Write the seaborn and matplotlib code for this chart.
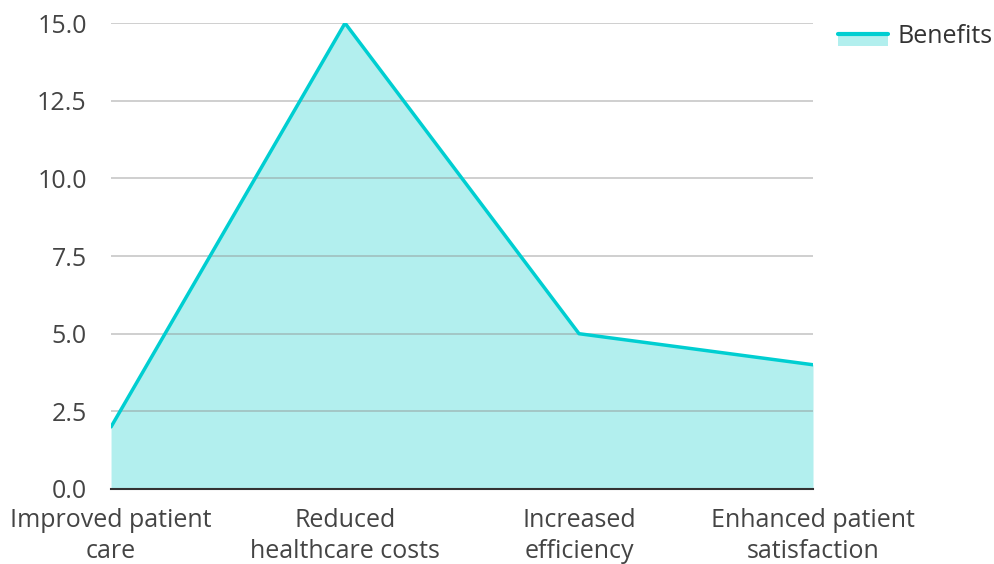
import matplotlib
matplotlib.use("Agg")
import matplotlib.pyplot as plt
import seaborn as sns
import pandas as pd
from matplotlib.legend_handler import HandlerBase
from matplotlib.patches import Rectangle
from matplotlib.lines import Line2D

categories = ["Improved patient\ncare", "Reduced\nhealthcare costs",
              "Increased\nefficiency", "Enhanced patient\nsatisfaction"]
benefits = [2, 15, 5, 4]
y_ticks = [0.0, 2.5, 5.0, 7.5, 10.0, 12.5, 15.0]
series_name = "Benefits"

line_color = "#00CED1"
fill_color = "#B2EFEE"

sns.set_theme(style="white")
plt.rcParams["font.family"] = ["Open Sans", "DejaVu Sans"]

df = pd.DataFrame({"pos": range(len(categories)), "value": benefits})

fig = plt.figure(figsize=(9.95, 5.64), dpi=100)
ax = fig.add_axes([0.1116, 0.133, 0.7055, 0.826])

ax.fill_between(df["pos"], 0, df["value"], color=fill_color, linewidth=0, zorder=1)
sns.lineplot(data=df, x="pos", y="value", ax=ax, color=line_color,
             linewidth=2.5, zorder=3, legend=False)

ax.set_xlim(0, len(categories) - 1)
ax.set_ylim(0, 15)
ax.set_yticks(y_ticks)
ax.set_yticklabels([f"{t:.1f}" for t in y_ticks])
ax.set_xticks(range(len(categories)))
ax.set_xticklabels(categories, linespacing=1.28)
ax.set_xlabel("")
ax.set_ylabel("")

ax.yaxis.grid(True, color="#909090", alpha=0.5, linewidth=1.2, zorder=2)
ax.xaxis.grid(False)
ax.set_axisbelow(False)
for s in ["top", "right", "left"]:
    ax.spines[s].set_visible(False)
ax.spines["bottom"].set_color("#333333")
ax.spines["bottom"].set_linewidth(1.5)
ax.spines["bottom"].set_zorder(4)

ax.tick_params(axis="both", length=0, labelsize=18, labelcolor="#444444")
ax.tick_params(axis="x", pad=14)
ax.tick_params(axis="y", pad=17.5)


class AreaHandler(HandlerBase):
    """Legend key for an area series: a filled band with its edge line on top."""

    def create_artists(self, legend, orig_handle, xdescent, ydescent,
                       width, height, fontsize, trans):
        mid = -ydescent + height / 2
        band = 8.5
        rect = Rectangle((-xdescent, mid - band), width, band,
                         facecolor=fill_color, edgecolor="none", transform=trans)
        line = Line2D([-xdescent, -xdescent + width], [mid, mid],
                      color=line_color, linewidth=3, transform=trans)
        return [rect, line]


handle = Rectangle((0, 0), 1, 1)
fig.legend([handle], [series_name], handler_map={Rectangle: AreaHandler()},
           loc="center left", bbox_to_anchor=(0.842, 0.935), frameon=False,
           borderpad=0, borderaxespad=0,
           fontsize=18, handlelength=2.0, handleheight=0.5, handletextpad=0.4,
           labelcolor="#333333")

fig.savefig("out.png", dpi=100)
